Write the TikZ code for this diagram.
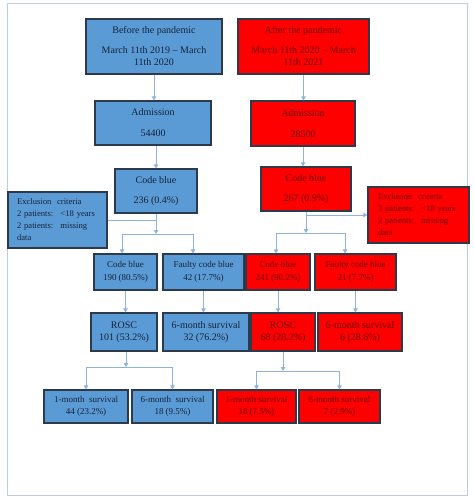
\documentclass[tikz,border=0pt]{standalone}
\usepackage{fontspec}
\setmainfont{Liberation Serif}
\usetikzlibrary{arrows.meta}
\definecolor{preblue}{HTML}{5B9BD5}
\definecolor{postred}{HTML}{FF0000}
\definecolor{boxline}{HTML}{2C3A4C}
\definecolor{blueink}{HTML}{14233A}
\definecolor{redink}{HTML}{6A0808}
\definecolor{linkblue}{HTML}{8DB3E2}
\definecolor{framegrey}{HTML}{BCCDE2}

\begin{document}
\begin{tikzpicture}[x=1pt, y=-1pt,
    box/.style={draw=boxline, line width=1.1pt, inner sep=0pt, align=center},
    before/.style={box, fill=preblue, text=blueink},
    after/.style={box, fill=postred, text=redink},
    big/.style={font=\fontsize{10}{12}\selectfont},
    small/.style={font=\fontsize{9}{12.5}\selectfont},
    excl/.style={align=left, inner xsep=9pt, text width=81pt,
      font=\fontsize{8.6}{12}\selectfont},
    link/.style={draw=linkblue, line width=0.8pt},
    arr/.style={link, -{Triangle[length=4pt, width=4.5pt]}}]
  \useasboundingbox (0,0) rectangle (474,501);

  % --- outer frame ---------------------------------------------------------
  \draw[framegrey, line width=0.9pt] (7,3.5) rectangle (467.5,495);

  % ---- 1. the two periods -------------------------------------------------
  \node[before, big, minimum width=136pt, minimum height=55pt] (topB) at (154,46.5)
    {Before the pandemic\\[8pt]March 11th 2019 -- March\\11th 2020};
  \node[after, big, minimum width=131pt, minimum height=55pt] (topR) at (303.5,46.5)
    {After the pandemic\\[8pt]March 11th 2020 -- March\\11th 2021};

  % ---- 2. admissions and code blue ----------------------------------------
  \node[before, big, minimum width=116pt, minimum height=44pt] (admB) at (153,123)
    {Admission\\[9pt]54400};
  \node[after, big, minimum width=104pt, minimum height=45pt] (admR) at (303,123.5)
    {Admission\\[9pt]28500};
  \node[before, big, minimum width=82pt, minimum height=44pt] (cbB) at (156,191)
    {Code blue\\[8pt]236 (0.4\%)};
  \node[after, big, minimum width=90pt, minimum height=44pt] (cbR) at (306,189)
    {Code blue\\[8pt]267 (0.9\%)};

  % ---- 3. exclusions ------------------------------------------------------
  \node[before, excl, minimum height=56pt] (exB) at (57.5,220)
    {Exclusion~ criteria\\2 patients:~ <18 years\\2 patients:~ missing\\data};
  \node[after, excl, inner xsep=10pt, minimum height=56pt] (exR) at (418.5,215)
    {Exclusion~ criteria\\3 patients:~ <18 years\\2 patients:~ missing\\data};

  % ---- 4. true and faulty code blue ---------------------------------------
  \node[before, small, minimum width=63pt, minimum height=36pt] (cb4B) at (125.5,272)
    {Code blue\\190 (80.5\%)};
  \node[before, small, minimum width=81pt, minimum height=36pt] (fa4B) at (203.5,272)
    {Faulty code blue\\42 (17.7\%)};
  \node[after, small, minimum width=64pt, minimum height=36pt] (cb4R) at (278,272)
    {Code blue\\241 (90.2\%)};
  \node[after, small, minimum width=81pt, minimum height=36pt] (fa4R) at (355.5,272)
    {Faulty code blue\\21 (7.7\%)};

  % ---- 5. ROSC and survival of the faulty calls ---------------------------
  \node[before, big, minimum width=66pt, minimum height=38pt] (roB) at (124,332)
    {ROSC\\101 (53.2\%)};
  \node[before, big, minimum width=86pt, minimum height=38pt] (s6B) at (206,332)
    {6-month survival\\32 (76.2\%)};
  \node[after, big, minimum width=64pt, minimum height=38pt] (roR) at (283,332)
    {ROSC\\68 (28.2\%)};
  \node[after, big, minimum width=84pt, minimum height=38pt] (s6R) at (360,332)
    {6-month survival\\6 (28.6\%)};

  % ---- 6. survival after ROSC ---------------------------------------------
  \node[before, small, minimum width=84pt, minimum height=33pt] (m1B) at (86,406.5)
    {1-month~ survival\\44 (23.2\%)};
  \node[before, small, minimum width=81pt, minimum height=33pt] (m6B) at (172.5,406.5)
    {6-month~ survival\\18 (9.5\%)};
  \node[after, small, minimum width=79pt, minimum height=33pt] (m1R) at (256.5,406.5)
    {1-month survival\\18 (7.5\%)};
  \node[after, small, minimum width=81pt, minimum height=33pt] (m6R) at (339.5,406.5)
    {6-month survival\\7 (2.9\%)};

  % ---- connectors ---------------------------------------------------------
  \draw[arr] (topB.south) -- (topB.south |- admB.north);
  \draw[arr] (topR.south) -- (topR.south |- admR.north);
  \draw[arr] (cbB.north |- admB.south) -- (cbB.north);
  \draw[arr] (admR.south) -- (admR.south |- cbR.north);

  % before: exclusion joins the trunk, then the split
  \coordinate (jB) at (cbB.south |- exB.east);
  \coordinate (forkB) at (156,234);
  \coordinate (fBl) at (122,234);
  \coordinate (fBr) at (193,234);
  \draw[link] (cbB.south) -- (jB) (exB.east) -- (jB);
  \draw[arr] (jB) -- (forkB);
  \draw[link] (fBl) -- (fBr);
  \draw[arr] (fBl) -- (fBl |- cb4B.north);
  \draw[arr] (fBr) -- (fBr |- fa4B.north);

  % after: trunk sends the exclusion out to the right
  \coordinate (jR) at (cbR.south |- exR.west);
  \coordinate (forkR) at (306,233);
  \coordinate (fRl) at (276,233);
  \coordinate (fRr) at (345,233);
  \draw[link] (cbR.south) -- (jR);
  \draw[arr] (jR) -- (exR.west);
  \draw[arr] (jR) -- (forkR);
  \draw[link] (fRl) -- (fRr);
  \draw[arr] (fRl) -- (fRl |- cb4R.north);
  \draw[arr] (fRr) -- (fRr |- fa4R.north);

  \foreach \a/\b in {cb4B/roB, fa4B/s6B, cb4R/roR, fa4R/s6R}
    \draw[arr] (\a.south) -- (\a.south |- \b.north);

  % ROSC splits into 1- and 6-month survival
  \coordinate (forkB2) at (126,367);
  \coordinate (forkR2) at (283,371);
  \draw[arr] (forkB2 |- roB.south) -- (forkB2);
  \draw[arr] (roR.south) -- (forkR2);
  \draw[link] (m1B.north |- forkB2) -- (m6B.north |- forkB2);
  \draw[link] (m1R.north |- forkR2) -- (m6R.north |- forkR2);
  \foreach \n/\f in {m1B/forkB2, m6B/forkB2, m1R/forkR2, m6R/forkR2}
    \draw[arr] (\n.north |- \f) -- (\n.north);
\end{tikzpicture}
\end{document}
